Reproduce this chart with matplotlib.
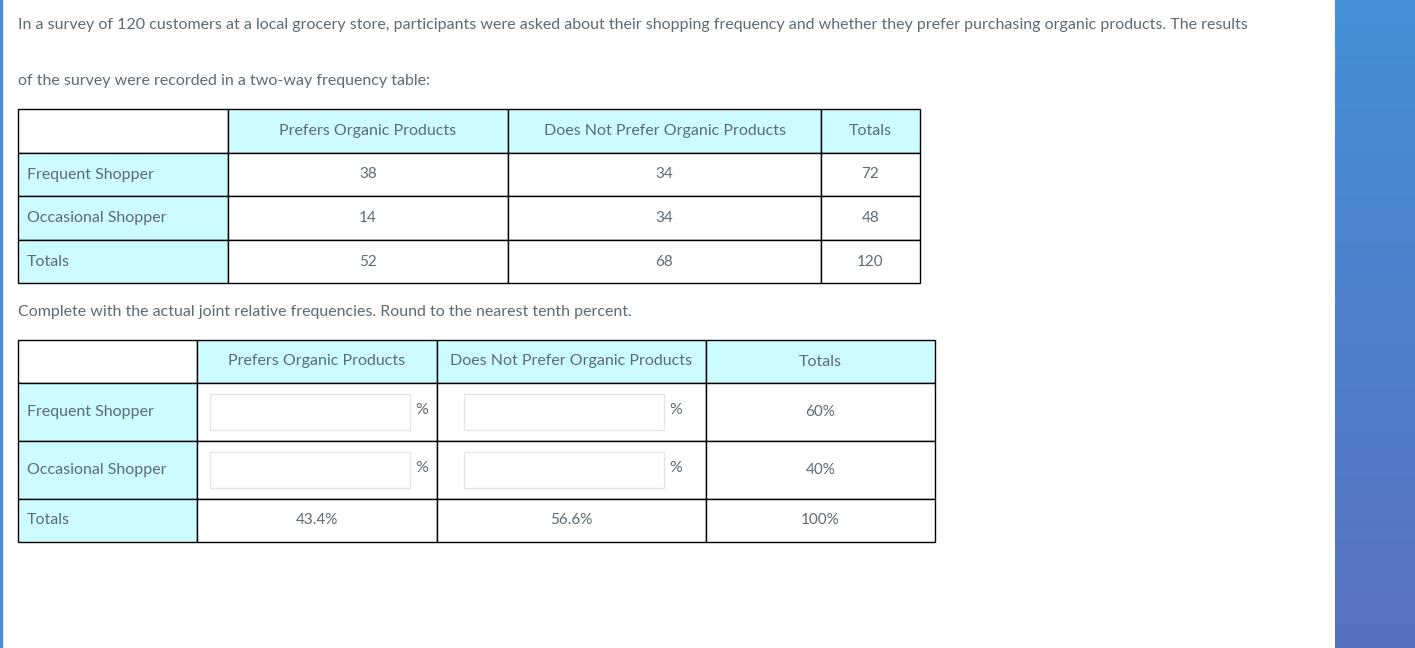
import numpy as np
import matplotlib.pyplot as plt
from matplotlib.patches import Rectangle

# data
col_labels = ['Prefers Organic Products', 'Does Not Prefer Organic Products', 'Totals']
row_labels = ['Frequent Shopper', 'Occasional Shopper', 'Totals']
counts = [[38, 34, 72],
          [14, 34, 48],
          [52, 68, 120]]
pct_row_totals = ['60%', '40%']
pct_col_totals = ['43.4%', '56.6%', '100%']

intro_1 = ('In a survey of 120 customers at a local grocery store, participants were asked about their '
           'shopping frequency and whether they prefer purchasing organic products. The results')
intro_2 = 'of the survey were recorded in a two-way frequency table:'
prompt = 'Complete with the actual joint relative frequencies. Round to the nearest tenth percent.'

TXT = '#5d6b74'
CYAN = '#ccfcff'
FONT = 'Lato'

fig = plt.figure(figsize=(14.15, 6.48), dpi=100)
ax = fig.add_axes([0, 0, 1, 1])
ax.set_xlim(0, 1415)
ax.set_ylim(648, 0)
ax.axis('off')

# right gradient panel and left edge
grad = np.linspace(0, 1, 256).reshape(-1, 1)
ax.imshow(grad, extent=(1335, 1415, 648, 0), aspect='auto', zorder=0,
          cmap=plt.matplotlib.colors.LinearSegmentedColormap.from_list('g', ['#4490d6', '#5a72be']))
ax.add_patch(Rectangle((0, 0), 2, 648, color='#4a90d9', zorder=1))

ax.text(18, 25, intro_1, fontsize=11.5, color=TXT, va='center', family=FONT)
ax.text(18, 81, intro_2, fontsize=11.5, color=TXT, va='center', family=FONT)
ax.text(18, 312, prompt, fontsize=11.5, color=TXT, va='center', family=FONT)


def cell(x0, x1, y0, y1, fill):
    ax.add_patch(Rectangle((x0, y0), x1 - x0, y1 - y0, facecolor=fill,
                           edgecolor='black', lw=1, zorder=2))


def draw_table(xs, ys, body):
    for i in range(len(ys) - 1):
        for j in range(len(xs) - 1):
            fill = CYAN if (i == 0) != (j == 0) else 'white'
            cell(xs[j], xs[j + 1], ys[i], ys[i + 1], fill)
    for j, lab in enumerate(col_labels):
        ax.text((xs[j + 1] + xs[j + 2]) / 2, (ys[0] + ys[1]) / 2, lab, ha='center', va='center',
                fontsize=11.5, color=TXT, family=FONT, zorder=3)
    for i, lab in enumerate(row_labels):
        ax.text(xs[0] + 9, (ys[i + 1] + ys[i + 2]) / 2, lab, ha='left', va='center',
                fontsize=11.5, color=TXT, family=FONT, zorder=3)
    for i, row in enumerate(body):
        for j, v in enumerate(row):
            if v is None:
                continue
            ax.text((xs[j + 1] + xs[j + 2]) / 2, (ys[i + 1] + ys[i + 2]) / 2, str(v), ha='center',
                    va='center', fontsize=11, color=TXT, family=FONT, zorder=3)


draw_table([18, 228, 508, 821, 920], [109, 153, 196, 240, 283], counts)

xs2 = [18, 197, 437, 706, 935]
ys2 = [340, 383, 441, 499, 542]
body2 = [[None, None, pct_row_totals[0]],
         [None, None, pct_row_totals[1]],
         pct_col_totals]
draw_table(xs2, ys2, body2)

# input boxes
for i in range(2):
    yc = (ys2[i + 1] + ys2[i + 2]) / 2
    for bx, px in [(210, 422), (464, 676)]:
        ax.add_patch(Rectangle((bx, yc - 18), 200, 36, facecolor='white', edgecolor='#e2e6ea',
                               lw=1, zorder=3))
        ax.text(px, yc - 2, '%', ha='center', va='center', fontsize=11.5, color=TXT,
                family=FONT, zorder=3)

fig.savefig('out.png', dpi=100)
